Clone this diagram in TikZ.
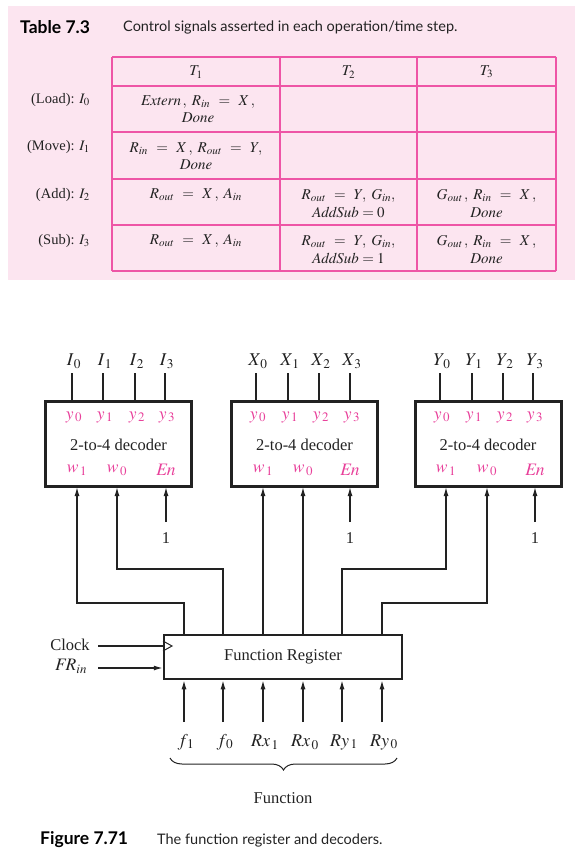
\documentclass[tikz,border=0pt]{standalone}
\usepackage{mathptmx}
\usepackage[no-math]{fontspec}
\setmainfont{Liberation Serif}
\newfontfamily\capfont{Lato}
\usetikzlibrary{arrows.meta,decorations.pathreplacing}
\definecolor{pinkbg}{HTML}{FCE5F0}
\definecolor{tline}{HTML}{EE55A6}
\definecolor{mag}{HTML}{E8409A}
\definecolor{ink}{HTML}{222222}
\newcommand{\myeq}{\mskip 6mu\mathrel{=}\mskip 6mu}
\newcommand{\mycm}{\,,\mskip 4mu}
\begin{document}
\begin{tikzpicture}[x=1pt,y=-1pt,
  font=\fontsize{16.5}{19}\selectfont, text=ink,
  tbl/.style={font=\fontsize{15}{17.5}\selectfont, align=center, inner sep=0},
  rowlab/.style={font=\fontsize{14.5}{17.5}\selectfont, anchor=east, inner sep=0},
  lab/.style={inner sep=0},
  pinlab/.style={inner sep=0, font=\fontsize{18}{20}\selectfont},
  mlab/.style={inner sep=0, text=mag, font=\fontsize{17.5}{20}\selectfont},
  arr/.style={line width=1.3pt, draw=ink, -{Latex[length=9pt,width=5pt]}},
  wire/.style={line width=1.3pt, draw=ink},
  decbox/.style={draw=ink, line width=3pt, rectangle, minimum width=146pt, minimum height=85pt, inner sep=0},
  regbox/.style={draw=ink, line width=2.5pt, rectangle, minimum width=238pt, minimum height=44pt, inner sep=0},
  tgrid/.style={draw=tline, line width=1.2pt},
  capb/.style={font=\capfont\bfseries\fontsize{17.5}{20}\selectfont, anchor=west, inner sep=0, text=black},
  capt/.style={font=\capfont\fontsize{14.5}{18}\selectfont, anchor=west, inner sep=0, text=ink},
]
\useasboundingbox (0,0) rectangle (582,859);
% ---------------- Table 7.3 ----------------
\fill[pinkbg] (8,6) rectangle (575,280);
\node[capb] (tcapb) at (20,27) {Table 7.3};
\node[capt] (tcapt) at (123,27) {Control signals asserted in each operation/time step.};
\foreach \yy in {57,86,132,179,225,271} \draw[tgrid] (112,\yy) -- (556,\yy);
\foreach \xx in {112,280,417,556} \draw[tgrid] (\xx,57) -- (\xx,271);
\node[tbl] (h1) at (196,72) {$T_1$};
\node[tbl] (h2) at (348.5,72) {$T_2$};
\node[tbl] (h3) at (486.5,72) {$T_3$};
\node[rowlab] (r0) at (90,100) {(Load): $I_0$};
\node[rowlab] (r1) at (90,147) {(Move): $I_1$};
\node[rowlab] (r2) at (90,195) {(Add): $I_2$};
\node[rowlab] (r3) at (90,241) {(Sub): $I_3$};
\node[tbl] (c01) at (198,109) {$\mathit{Extern}\mycm R_{\mathit{in}} \myeq X\,,$\\$\mathit{Done}$};
\node[tbl] (c11) at (196,156) {$R_{\mathit{in}} \myeq X\mycm R_{\mathit{out}} \myeq Y,$\\$\mathit{Done}$};
\node[tbl] (c21) at (196,195) {$R_{\mathit{out}} \myeq X\mycm A_{\mathit{in}}$};
\node[tbl] (c22) at (348.5,203.5) {$R_{\mathit{out}} \myeq Y,\mskip 4mu G_{\mathit{in}},$\\$\mathit{AddSub} = 0$};
\node[tbl] (c23) at (486.5,203.5) {$G_{\mathit{out}}\mycm R_{\mathit{in}} \myeq X\,,$\\$\mathit{Done}$};
\node[tbl] (c31) at (196,241) {$R_{\mathit{out}} \myeq X\mycm A_{\mathit{in}}$};
\node[tbl] (c32) at (348.5,249.5) {$R_{\mathit{out}} \myeq Y,\mskip 4mu G_{\mathit{in}},$\\$\mathit{AddSub} = 1$};
\node[tbl] (c33) at (486.5,249.5) {$G_{\mathit{out}}\mycm R_{\mathit{in}} \myeq X\,,$\\$\mathit{Done}$};
% ---------------- Decoders ----------------
\node[decbox] (dec1) at (118.5,443.5) {};
\node[decbox] (dec2) at (304.5,443.5) {};
\node[decbox] (dec3) at (488,443.5) {};
\foreach \d/\L/\a/\b/\c/\e/\wa/\wb/\en in {dec1/I/72/103/135/165/77/117/166, dec2/X/256/288/319/350/263/303/350, dec3/Y/440/472/503/533/446/487/535}{
  \foreach \px [count=\i from 0] in {\a,\b,\c,\e}{
    \coordinate (\d in\i) at (\px,373);
    \draw[wire] (\d in\i) -- (\d in\i |- \d.north);
    \node[pinlab] at (\px+2,361) {$\L_{\,\i}$};
    \node[mlab] at (\px+2,417) {$y_{\,\i}$};
  }
  \node[lab] at (\d.center |- 0,445) {2-to-4 decoder};
  \node[mlab] at (\wa,470) {$w_{\,1}$};
  \node[mlab] at (\wb,470) {$w_{\,0}$};
  \node[mlab] at (\en,470) {$\mathit{En}$};
  \coordinate (\d w1) at (\wa,487);
  \coordinate (\d w0) at (\wb,487);
  \coordinate (\d en) at (\en,487);
  \coordinate (\d one) at (\en,522);
  \node[lab] (\d onel) at (\en,538) {1};
  \draw[arr] (\d one) -- (\d en);
}
% ---------------- Function register ----------------
\node[regbox] (reg) at (283,657) {Function Register};
\draw[line width=1pt, draw=ink] (163,641) -- (172,646) -- (163,651);
\node[lab] (clk) at (70,645) {Clock};
\node[lab, font=\fontsize{17.5}{20}\selectfont] (frin) at (71,666) {$\mathit{FR}_{\mathit{in}}$};
\coordinate (clkS) at (98,646);
\coordinate (frS) at (98,668);
\draw[wire] (clkS) -- (clkS -| reg.west);
\draw[arr] (frS) -- (frS -| reg.west);
% register outputs
\coordinate (o1) at (184,634);
\coordinate (o2) at (223,634);
\coordinate (o3) at (263,634);
\coordinate (o4) at (303,634);
\coordinate (o5) at (342,634);
\coordinate (o6) at (382,634);
\coordinate (b1) at (77,603);
\coordinate (b2) at (117,569);
\coordinate (b5) at (446,569);
\coordinate (b6) at (487,603);
\draw[arr] (o1) |- (b1) -- (dec1w1);
\draw[arr] (o2) |- (b2) -- (dec1w0);
\draw[arr] (o3) -- (dec2w1);
\draw[arr] (o4) -- (dec2w0);
\draw[arr] (o5) |- (b5) -- (dec3w1);
\draw[arr] (o6) |- (b6) -- (dec3w0);
% register inputs
\foreach \px/\t in {184/f_{\,1}, 223/f_{\,0}, 263/Rx_{\,1}, 303/Rx_{\,0}, 342/Ry_{\,1}, 382/Ry_{\,0}}{
  \coordinate (in\px) at (\px,722);
  \draw[arr] (in\px) -- (in\px |- reg.south);
  \node[pinlab] at (\px+2,742) {$\t$};
}
\coordinate (brL) at (170,758);
\coordinate (brR) at (397,758);
\draw[line width=1pt, draw=ink, decorate, decoration={brace, mirror, amplitude=12pt}] (brL) -- (brR);
\node[lab] (func) at (283,798) {Function};
% ---------------- Figure caption ----------------
\node[capb] (fcapb) at (40,840) {Figure 7.71};
\node[capt] (fcapt) at (157,840) {The function register and decoders.};
\end{tikzpicture}
\end{document}
